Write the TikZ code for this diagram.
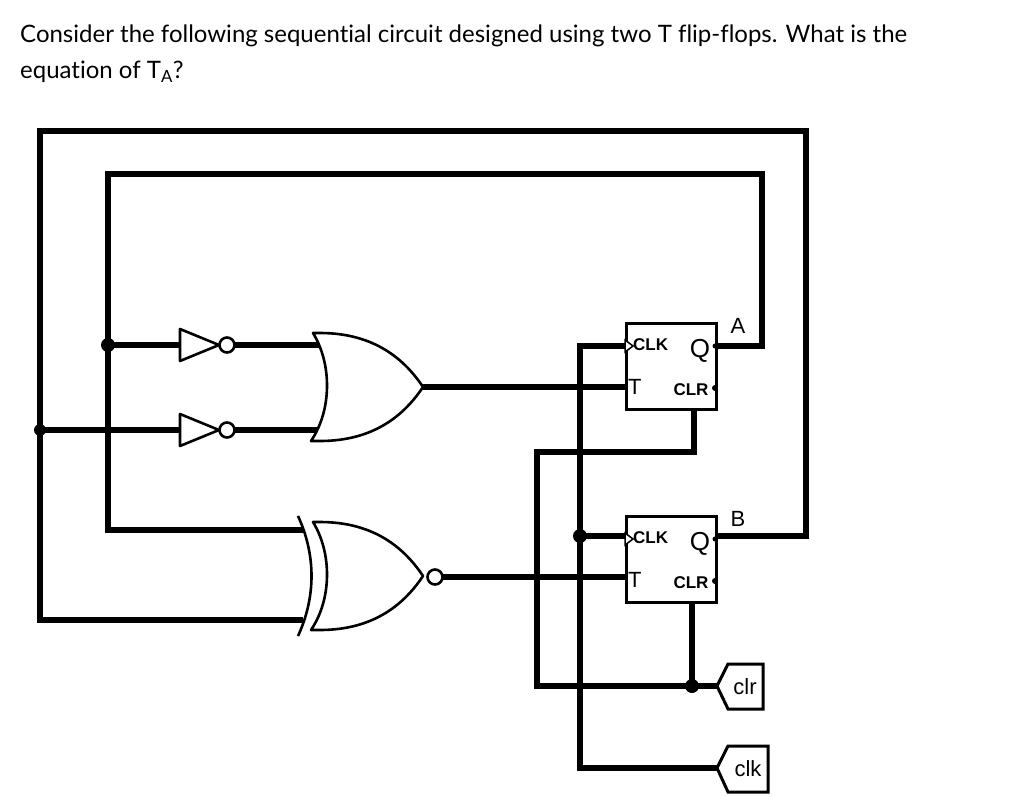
\documentclass[tikz,border=0pt]{standalone}
\usepackage{fontspec}
\setmainfont[Ligatures=NoCommon]{Lato}
\newfontfamily\gatefont{Liberation Sans}
\begin{document}
\begin{tikzpicture}[x=1pt,y=-1pt,
  wire/.style={line width=5.5pt,line cap=rect},
  gate/.style={line width=2.6pt,fill=white,line join=round},
  dot/.style={circle,fill=black,inner sep=0pt,minimum size=14pt},
  ffbox/.style={draw,line width=3pt,minimum width=90pt,minimum height=86pt,inner sep=0pt,fill=white},
  pin/.style={font=\gatefont\bfseries\fontsize{17}{17}\selectfont},
  pinl/.style={font=\gatefont\fontsize{22}{22}\selectfont},
  qlab/.style={font=\gatefont\fontsize{26}{26}\selectfont},
  iobox/.style={draw,line width=3pt,fill=white}]
\useasboundingbox (0,0) rectangle (1011,797);
\node[anchor=base west,font=\fontsize{24}{28}\selectfont,inner sep=0pt] (t1) at (20,43) {Consider the following sequential circuit designed using two T flip-flops. What is the};
\node[anchor=base west,font=\fontsize{24}{28}\selectfont,inner sep=0pt] (t2) at (20,79) {equation of T\textsubscript{A}?};
% coordinates
\coordinate (qa) at (715,346); \coordinate (qb) at (715,536);
\coordinate (ta) at (625,387); \coordinate (tb) at (625,577);
\coordinate (ca) at (625,346); \coordinate (cb) at (625,536);
\coordinate (clra) at (694,408); \coordinate (clrb) at (692,601);
\coordinate (dA) at (108,345); \coordinate (dB) at (40,430);
\coordinate (dclk) at (580,536); \coordinate (dclr) at (692,686);
% wires
\draw[wire] (qa) -| (762,174) -| (108,530) -- (300,530);
\draw[wire] (qb) -| (806,131) -| (40,620) -- (300,620);
\draw[wire] (dA) -- (180,345); \draw[wire] (233,345) -- (316,345);
\draw[wire] (dB) -- (180,430); \draw[wire] (233,430) -- (316,430);
\draw[wire] (423,387) -- (ta);
\draw[wire] (440,577) -- (tb);
\draw[wire] (ca) -- (580,346) -- (580,768) -- (720,768);
\draw[wire] (dclk) -- (cb);
\draw[wire] (clra) -- (694,452) -- (537,452) -- (537,686) -- (720,686);
\draw[wire] (clrb) -- (dclr);
% dots
\node[dot] (nA) at (dA) {}; \node[dot,minimum size=12pt] (nB) at (dB) {};
\node[dot] (nclk) at (dclk) {}; \node[dot] (nclr) at (dclr) {};
% inverters
\foreach \y/\n in {345/ia,430/ib}{
  \draw[gate] (180,\y-16) -- (180,\y+16) -- (219,\y) -- cycle;
  \draw[gate] (227,\y) circle (7.5);
}
% OR
\draw[gate] (313,333) -- (320,333) .. controls (375,333) and (405,360) .. (423,387)
  .. controls (405,414) and (375,441) .. (320,441) -- (311,441)
  .. controls (332,410) and (332,364) .. (313,333) -- cycle;
% XNOR
\draw[gate] (313,522) -- (320,522) .. controls (375,522) and (405,549) .. (423,576)
  .. controls (405,603) and (375,630) .. (320,630) -- (311,630)
  .. controls (332,599) and (332,553) .. (313,522) -- cycle;
\draw[gate,fill=none] (298,516) .. controls (316,555) and (316,597) .. (298,636);
\draw[gate] (435,577) circle (7.5);
% flip-flops
\foreach \yy/\lab/\nm in {322/A/ffa,515/B/ffb}{
  \node[ffbox,anchor=north west] (\nm) at (625,\yy) {};
  \draw[line width=1.5pt,fill=white] (625,\yy+18) -- (633,\yy+24) -- (625,\yy+30) -- cycle;
  \node[pin,anchor=west,inner sep=0pt] at (633,\yy+23) {CLK};
  \node[qlab,anchor=center] at (700,\yy+29) {Q};
  \node[pinl,anchor=west,inner sep=0pt] at (628,\yy+65) {T};
  \node[pin,anchor=center] at (691,\yy+68) {CLR};
  \fill (715,\yy+66) circle (3);
  \fill (715,\yy+24) circle (2.5);
  \node[pinl,anchor=center] at (738,\yy+4) {\lab};
}
% io boxes
\draw[iobox] (717,686) -- (728,664) -- (763,664) -- (763,709) -- (728,709) -- cycle;
\node[pinl] (clr) at (745,687) {clr};
\draw[iobox] (717,768) -- (728,746) -- (768,746) -- (768,792) -- (728,792) -- cycle;
\node[pinl] (clk) at (748,769) {clk};
\end{tikzpicture}
\end{document}
